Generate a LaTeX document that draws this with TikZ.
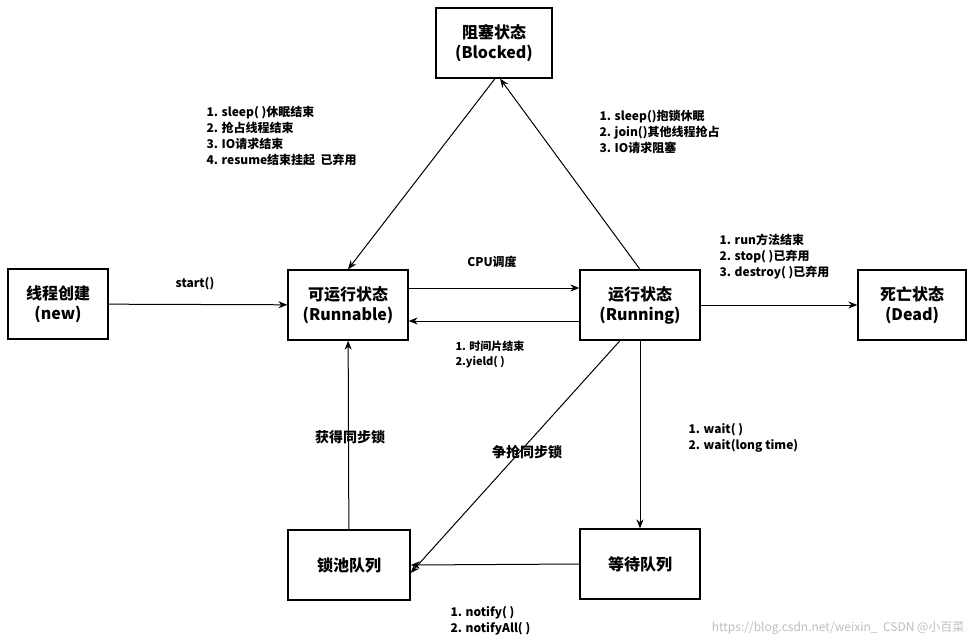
\documentclass[tikz,border=0pt]{standalone}
\usepackage{fontspec}
\setmainfont{Noto Sans CJK SC}
\usetikzlibrary{arrows.meta}
\begin{document}
\begin{tikzpicture}[x=1pt,y=-1pt,
 box/.style={draw,line width=1.3pt,minimum width=#1,minimum height=70pt,align=center,font=\fontsize{16}{20}\selectfont\bfseries},
 box/.default=120pt,
 lab/.style={align=left,font=\fontsize{12}{16}\selectfont\bfseries},
 arr/.style={-{Stealth[length=9pt,width=7pt]},line width=1pt}]
\useasboundingbox[fill=white] (0,0) rectangle (974,643);
\node[box=100pt] (new) at (58,304) {线程创建\\(new)};
\node[box] (rn) at (348,305) {可运行状态\\(Runnable)};
\node[box] (ru) at (640,305) {运行状态\\(Running)};
\node[box=108pt] (dead) at (912,305) {死亡状态\\(Dead)};
\node[box=116pt] (bl) at (494,43) {阻塞状态\\(Blocked)};
\node[box=122pt] (lp) at (349,565) {锁池队列};
\node[box] (wq) at (640,564) {等待队列};
\draw[arr] (new) -- (rn);
\draw[arr] (rn.east|-0,288) -- (ru.west|-0,288);
\draw[arr] (ru.west|-0,321) -- (rn.east|-0,321);
\draw[arr] (ru) -- (dead);
\draw[arr] (bl.south) ++(1,0) -- (rn.north);
\draw[arr] (ru.north) -- ([xshift=6pt]bl.south);
\draw[arr] (ru) -- (wq);
\draw[arr] ([xshift=-20pt]ru.south) -- ([yshift=-8pt]lp.east);
\draw[arr] (wq.west) -- (lp.east);
\draw[arr] (lp) -- (rn);
\node[lab] (l1) at (195,284) {start()};
\node[lab] (l2) at (492,262) {CPU调度};
\node[lab,anchor=north west,font=\fontsize{11}{15}\selectfont\bfseries] (l3) at (452,337) {1. 时间片结束\\2.yield( )};
\node[lab,anchor=north west] (l4) at (716,230) {1. run方法结束\\2. stop( )已弃用\\3. destroy( )已弃用};
\node[lab,anchor=north west] (l5) at (203,103) {1. sleep( )休眠结束\\2. 抢占线程结束\\3. IO请求结束\\4. resume结束挂起\ \ 已弃用};
\node[lab,anchor=north west] (l6) at (596,107) {1. sleep()抱锁休眠\\2. join()其他线程抢占\\3. IO请求阻塞};
\node[lab,anchor=north west] (l7) at (685,420) {1. wait( )\\2. wait(long time)};
\node[lab,font=\fontsize{14}{18}\selectfont\bfseries] (l8) at (527,452) {争抢同步锁};
\node[lab,font=\fontsize{14}{18}\selectfont\bfseries] (l9) at (350,437) {获得同步锁};
\node[lab,anchor=north west] (l10) at (447,603) {1. notify( )\\2. notifyAll( )};
\node[anchor=south east,text=black!25,font=\fontsize{12}{14}\selectfont] (wm) at (968,638) {https://blog.csdn.net/weixin\_\ \ CSDN @小百菜};
\end{tikzpicture}
\end{document}
